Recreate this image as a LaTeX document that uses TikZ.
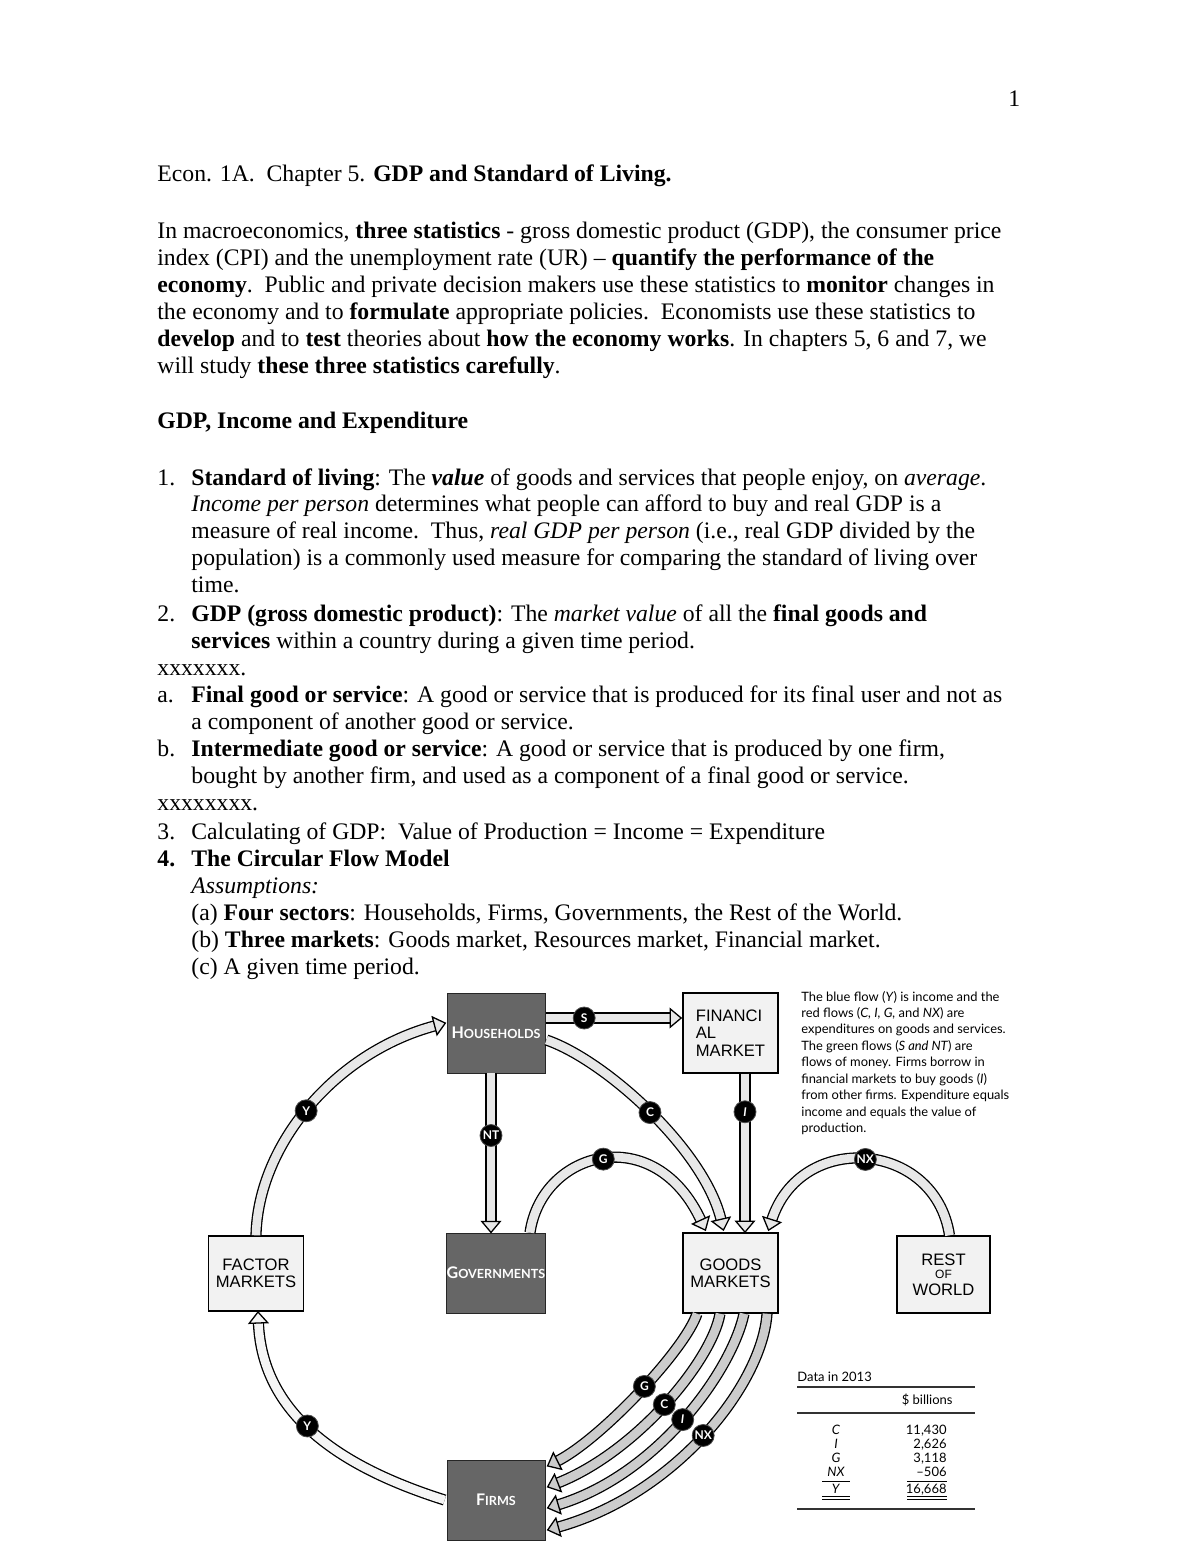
\documentclass[tikz,border=0pt]{standalone}
\usepackage{fontspec}
\setmainfont{Liberation Serif}
\newfontfamily\capfont{Lato}
\newfontfamily\handfont{Liberation Sans}
\usetikzlibrary{calc,decorations.markings}
\begin{document}
\begin{tikzpicture}[x=0.5pt,y=-0.5pt,
  txt/.style={anchor=base west, inner sep=0pt, font=\fontsize{11.85}{13.6}\selectfont},
  captxt/.style={anchor=base west, inner sep=0pt, font=\capfont\fontsize{6.45}{8}\selectfont},
  tab/.style={inner sep=0pt, font=\capfont\fontsize{6.5}{8}\selectfont},
  darkbox/.style={draw=black!85, fill=black!60, minimum width=49pt, minimum height=40pt, inner sep=0pt, text=white, font=\capfont\bfseries\fontsize{8}{9}\selectfont},
  lightbox/.style={draw=black, line width=0.7pt, fill=gray!10, minimum width=47.5pt, minimum height=40pt, inner sep=1pt, align=center, font=\handfont\fontsize{8.3}{8.6}\selectfont},
  coin/.style={circle, fill=black, draw=black!70, minimum size=11pt, inner sep=0pt, text=white, font=\capfont\bfseries\fontsize{6}{6}\selectfont},
  flow/.style={line width=0.65pt, draw=black, double=#1, double distance=4.3pt, shorten >=5pt,
    postaction={decorate, decoration={markings, mark=at position 0.999 with {\filldraw[fill=#1, draw=black, line width=0.65pt, line join=miter] (0pt,0pt) -- (-5.5pt,4.6pt) -- (-5.5pt,-4.6pt) -- cycle;}}}},
  flow/.default=gray!18,
  rulel/.style={line width=0.8pt, draw=black!80}
]
\fill[white] (0,0) rectangle (1200,1549);
\useasboundingbox (0,0) rectangle (1200,1549);

% ---------------- text ----------------
\node[txt] (pg) at (1008,106) {1};
\node[txt] (title) at (157,181) {Econ. 1A.\ \ Chapter 5. \textbf{GDP and Standard of Living.}};

\node[txt] (p1) at (157,238) {In macroeconomics, \textbf{three statistics} - gross domestic product (GDP), the consumer price};
\node[txt] (p2) at (157,265) {index (CPI) and the unemployment rate (UR) -- \textbf{quantify the performance of the}};
\node[txt] (p3) at (157,292) {\textbf{economy}.\ \ Public and private decision makers use these statistics to \textbf{monitor} changes in};
\node[txt] (p4) at (157,319) {the economy and to \textbf{formulate} appropriate policies.\ \ Economists use these statistics to};
\node[txt] (p5) at (157,346) {\textbf{develop} and to \textbf{test} theories about \textbf{how the economy works}. In chapters 5, 6 and 7, we};
\node[txt] (p6) at (157,373) {will study \textbf{these three statistics carefully}.};

\node[txt] (h1) at (157,428) {\textbf{GDP, Income and Expenditure}};

\node[txt] (n1) at (157,485) {1.};
\node[txt] (i1a) at (191,485) {\textbf{Standard of living}: The \textbf{\textit{value}} of goods and services that people enjoy, on \textit{average}.};
\node[txt] (i1b) at (191,511) {\textit{Income per person} determines what people can afford to buy and real GDP is a};
\node[txt] (i1c) at (191,538) {measure of real income.\ \ Thus, \textit{real GDP per person} (i.e., real GDP divided by the};
\node[txt] (i1d) at (191,565) {population) is a commonly used measure for comparing the standard of living over};
\node[txt] (i1e) at (191,592) {time.};
\node[txt] (n2) at (157,621) {2.};
\node[txt] (i2a) at (191,621) {\textbf{GDP (gross domestic product)}: The \textit{market value} of all the \textbf{final goods and}};
\node[txt] (i2b) at (191,648) {\textbf{services} within a country during a given time period.};
\node[txt] (x1) at (157,675) {xxxxxxx.};
\node[txt] (na) at (157,702) {a.};
\node[txt] (iaa) at (191,702) {\textbf{Final good or service}: A good or service that is produced for its final user and not as};
\node[txt] (iab) at (191,729) {a component of another good or service.};
\node[txt] (nb) at (157,756) {b.};
\node[txt] (iba) at (191,756) {\textbf{Intermediate good or service}: A good or service that is produced by one firm,};
\node[txt] (ibb) at (191,783) {bought by another firm, and used as a component of a final good or service.};
\node[txt] (x2) at (157,810) {xxxxxxxx.};
\node[txt] (n3) at (157,839) {3.};
\node[txt] (i3) at (191,839) {Calculating of GDP:\ \ Value of Production = Income = Expenditure};
\node[txt] (n4) at (157,866) {\textbf{4.}};
\node[txt] (i4) at (191,866) {\textbf{The Circular Flow Model}};
\node[txt] (as) at (191,893) {\textit{Assumptions:}};
\node[txt] (asa) at (191,920) {(a) \textbf{Four sectors}: Households, Firms, Governments, the Rest of the World.};
\node[txt] (asb) at (191,947) {(b) \textbf{Three markets}: Goods market, Resources market, Financial market.};
\node[txt] (asc) at (191,974) {(c) A given time period.};

% ---------------- caption ----------------
\node[captxt] (c1) at (801,1001) {The blue flow (\textit{Y}) is income and the};
\node[captxt] (c2) at (801,1017) {red flows (\textit{C, I, G,} and \textit{NX}) are};
\node[captxt] (c3) at (801,1033) {expenditures on goods and services.};
\node[captxt] (c4) at (801,1050) {The green flows (\textit{S and NT}) are};
\node[captxt] (c5) at (801,1066) {flows of money. Firms borrow in};
\node[captxt] (c6) at (801,1083) {financial markets to buy goods (\textit{I})};
\node[captxt] (c7) at (801,1099) {from other firms. Expenditure equals};
\node[captxt] (c8) at (801,1116) {income and equals the value of};
\node[captxt] (c9) at (801,1132) {production.};

% ---------------- boxes ----------------
\node[darkbox] (hh) at (496,1033) {H{\fontsize{6.3}{7}\selectfont OUSEHOLDS}};
\node[darkbox] (gov) at (496,1273) {G{\fontsize{6.3}{7}\selectfont OVERNMENTS}};
\node[darkbox] (firms) at (496,1500) {F{\fontsize{6.3}{7}\selectfont IRMS}};
\node[lightbox, align=left] (fin) at (730.5,1033) {FINANCI\\AL\\MARKET};
\node[lightbox] (goods) at (730.5,1273) {GOODS\\MARKETS};
\node[lightbox, minimum height=37.5pt] (fm) at (256,1273.5) {FACTOR\\MARKETS};
\node[lightbox, minimum width=46.5pt, minimum height=38.5pt] (row) at (943.5,1274.5) {REST\\[-2pt]{\fontsize{6}{6}\selectfont OF}\\WORLD};

% ---------------- flows ----------------
\draw[flow] (fm.north) .. controls (258,1145) and (335,1052) .. ($(hh.west)+(-1,-10)$) coordinate[pos=0.48] (kY1);
\draw[flow=gray!8] ($(firms.west)+(-2,0)$) .. controls (350,1470) and (262,1420) .. ($(fm.south)+(2,0)$) coordinate[pos=0.55] (kY2);
\draw[flow] ($(hh.east)+(1,-15)$) -- ($(fin.west)+(-1,-15)$) coordinate[pos=0.28] (kS);
\draw[flow] ($(hh.south)+(-5,0)$) -- ($(gov.north)+(-5,0)$) coordinate[pos=0.39] (kNT);
\draw[flow] ($(fin.south)+(14.5,0)$) -- ($(goods.north)+(14.5,0)$) coordinate[pos=0.24] (kI);
\draw[flow] ($(hh.east)+(1,7)$) .. controls (605,1060) and (705,1150) .. ($(goods.north)+(-7,-2)$) coordinate[pos=0.5] (kC);
\draw[flow] ($(gov.north)+(34,0)$) .. controls (542,1150) and (655,1120) .. ($(goods.north)+(-25,-2)$) coordinate[pos=0.5] (kG);
\draw[flow] ($(row.north)+(6,0)$) .. controls (935,1140) and (800,1130) .. ($(goods.north)+(38,-2)$) coordinate[pos=0.5] (kNX);

\draw[flow=gray!40] ($(goods.south)+(-33.5,0)$) .. controls (685,1350) and (600,1440) .. ($(firms.east)+(2,-34)$) coordinate[pos=0.46] (bG);
\draw[flow=gray!40] ($(goods.south)+(-10.5,0)$) .. controls (712,1360) and (637,1452) .. ($(firms.east)+(2,-13)$) coordinate[pos=0.5] (bC);
\draw[flow=gray!40] ($(goods.south)+(13.5,0)$) .. controls (732,1370) and (658,1475) .. ($(firms.east)+(2,8)$) coordinate[pos=0.5] (bI);
\draw[flow=gray!40] ($(goods.south)+(36.5,0)$) .. controls (762,1385) and (675,1495) .. ($(firms.east)+(2,30)$) coordinate[pos=0.5] (bNX);

% ---------------- coins ----------------
\node[coin] at (kY1) {Y};
\node[coin] at (kY2) {Y};
\node[coin] at (kS) {S};
\node[coin] at (kNT) {NT};
\node[coin] at (kI) {\textit{I}};
\node[coin] at (kC) {C};
\node[coin] at (kG) {G};
\node[coin] at (kNX) {NX};
\node[coin] at (bG) {G};
\node[coin] at (bC) {C};
\node[coin] at (bI) {\textit{I}};
\node[coin] at (bNX) {NX};

% ---------------- data table ----------------
\node[tab, anchor=base west] (dt) at (797,1381) {Data in 2013};
\draw[rulel] (797,1387) coordinate (r1a) -- (975,1387) coordinate (r1b);
\node[tab, anchor=base east] (bil) at (953,1404) {\$ billions};
\draw[rulel] (797,1413) coordinate (r2a) -- (975,1413) coordinate (r2b);
\node[tab, anchor=base] (lC) at (836,1434) {\textit{C}};
\node[tab, anchor=base] (lI) at (836,1448) {\textit{I}};
\node[tab, anchor=base] (lG) at (836,1462) {\textit{G}};
\node[tab, anchor=base] (lNX) at (836,1476) {\textit{NX}};
\node[tab, anchor=base] (lY) at (836,1493) {\textit{Y}};
\node[tab, anchor=base east] (vC) at (947,1434) {11,430};
\node[tab, anchor=base east] (vI) at (947,1448) {2,626};
\node[tab, anchor=base east] (vG) at (947,1462) {3,118};
\node[tab, anchor=base east] (vNX) at (947,1476) {\textendash 506};
\node[tab, anchor=base east] (vY) at (947,1493) {16,668};
\draw[line width=0.5pt] (822,1481) coordinate (u1a) -- (850,1481) coordinate (u1b);
\draw[line width=0.5pt] (907,1481) coordinate (u2a) -- (947,1481) coordinate (u2b);
\draw[line width=0.5pt, double, double distance=0.8pt] (822,1498) coordinate (u3a) -- (850,1498) coordinate (u3b);
\draw[line width=0.5pt, double, double distance=0.8pt] (907,1498) coordinate (u4a) -- (947,1498) coordinate (u4b);
\draw[rulel] (797,1509) coordinate (r3a) -- (975,1509) coordinate (r3b);
\end{tikzpicture}
\end{document}
